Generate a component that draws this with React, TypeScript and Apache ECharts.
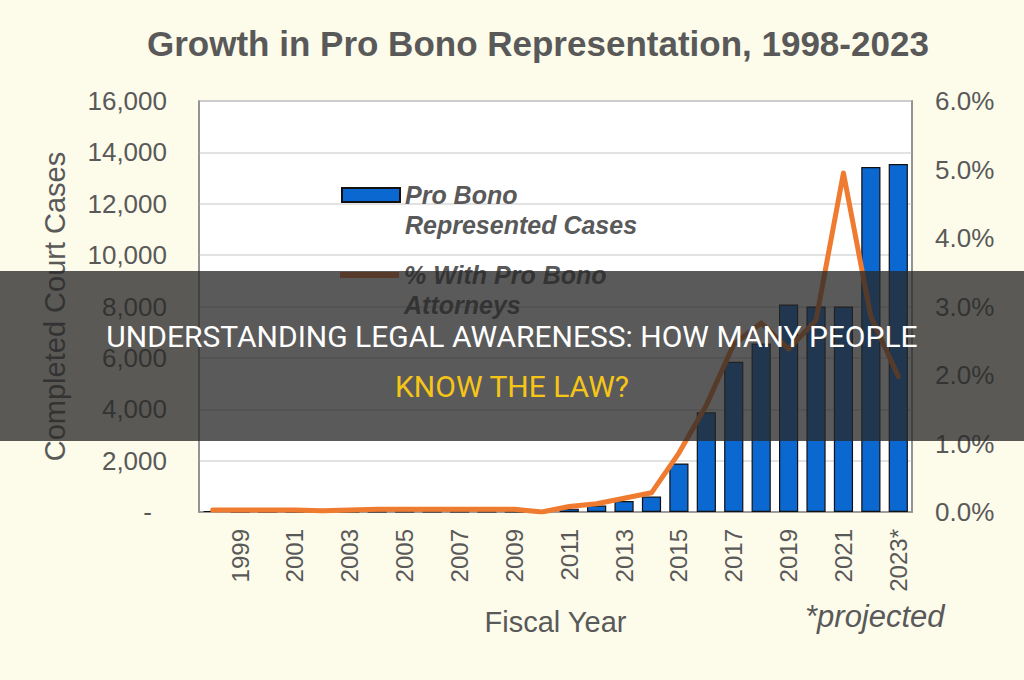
import React, { useEffect, useRef } from "react";
import * as echarts from "echarts";

const years = ["1998","1999","2000","2001","2002","2003","2004","2005","2006","2007","2008","2009","2010","2011","2012","2013","2014","2015","2016","2017","2018","2019","2020","2021","2022","2023*"];
const cases = [40,0,0,0,0,0,0,0,0,0,0,0,50,130,250,430,600,1890,3880,5850,6560,8080,8000,8000,13430,13550];
const pctWithAttorneys = [0.03,0.03,0.03,0.03,0.02,0.03,0.04,0.04,0.04,0.04,0.04,0.04,0.0,0.08,0.12,0.2,0.28,0.86,1.56,2.45,2.76,2.38,2.8,4.95,2.85,1.98];
const leftTicks = { min: 0, max: 16000, interval: 2000 };
const rightTicks = { min: 0, max: 6, interval: 1 };

const GRAY = "#595959";
const BAR = "#0a68d0";
const LINE = "#ee7b30";
const FONT = "'Liberation Sans', Arial, sans-serif";

export default function App() {
  const ref = useRef<HTMLDivElement>(null);
  useEffect(() => {
    if (!ref.current) return;
    const chart = echarts.init(ref.current, null, { renderer: "svg" });
    const legendText = {
      color: GRAY,
      fontSize: 25,
      fontStyle: "italic",
      fontWeight: "bold",
      fontFamily: FONT,
      lineHeight: 30,
    };
    chart.setOption({
      animation: false,
      backgroundColor: "#fdfbea",
      title: {
        text: "Growth in Pro Bono Representation, 1998-2023",
        left: 147,
        top: 26,
        padding: 0,
        textStyle: { color: GRAY, fontSize: 35, fontWeight: "bold", fontFamily: FONT },
      },
      legend: [
        {
          data: [{ name: "Pro Bono Represented Cases", icon: "path://M0,44 M0,0 L58,0 L58,14 L0,14 Z" }],
          left: 341,
          top: 180,
          padding: 0,
          itemWidth: 58,
          itemHeight: 44,
          formatter: () => "Pro Bono\nRepresented Cases",
          textStyle: legendText,
        },
        {
          data: [{ name: "% With Pro Bono Attorneys", icon: "path://M59,44 M0,0 M0,4 L59,4 L59,10 L0,10 Z" }],
          left: 340,
          top: 260,
          padding: 0,
          itemWidth: 59,
          itemHeight: 44,
          formatter: () => "% With Pro Bono\nAttorneys",
          textStyle: legendText,
        },
      ],
      grid: {
        left: 199,
        right: 112,
        top: 101,
        bottom: 168,
        show: true,
        backgroundColor: "#ffffff",
        borderColor: "#8c8c8c",
        borderWidth: 1.5,
      },
      xAxis: {
        type: "category",
        data: years,
        name: "Fiscal Year",
        nameLocation: "middle",
        nameGap: 95,
        nameTextStyle: { color: GRAY, fontSize: 29, fontFamily: FONT },
        axisLine: { show: true, lineStyle: { color: "#8c8c8c", width: 1.5 } },
        axisTick: { show: false },
        axisLabel: {
          rotate: 90,
          margin: 17,
          color: GRAY,
          fontSize: 24,
          fontFamily: FONT,
          interval: (i: number) => i % 2 === 1,
        },
      },
      yAxis: [
        {
          type: "value",
          ...leftTicks,
          name: "Completed Court Cases",
          nameLocation: "middle",
          nameRotate: 90,
          nameGap: 130,
          nameTextStyle: { color: GRAY, fontSize: 29, fontFamily: FONT },
          axisLine: { show: true, lineStyle: { color: "#8c8c8c", width: 1.5 } },
          axisTick: { show: false },
          splitLine: { lineStyle: { color: "#d9d9d9", width: 1.5 } },
          axisLabel: {
            margin: 32,
            color: GRAY,
            fontSize: 26,
            fontFamily: FONT,
            formatter: (v: number) => (v === 0 ? "{z|-}" : v.toLocaleString("en-US")),
            rich: {
              z: { color: GRAY, fontSize: 26, fontFamily: FONT, padding: [0, 15, 0, 0] },
            },
          },
        },
        {
          type: "value",
          ...rightTicks,
          position: "right",
          axisLine: { show: true, lineStyle: { color: "#8c8c8c", width: 1.5 } },
          axisTick: { show: false },
          splitLine: { show: false },
          axisLabel: {
            margin: 23,
            color: GRAY,
            fontSize: 26,
            fontFamily: FONT,
            formatter: (v: number) => v.toFixed(1) + "%",
          },
        },
      ],
      series: [
        {
          name: "Pro Bono Represented Cases",
          type: "bar",
          data: cases,
          barCategoryGap: "30%",
          itemStyle: { color: BAR, borderColor: "#111", borderWidth: 1.2 },
        },
        {
          name: "% With Pro Bono Attorneys",
          type: "line",
          yAxisIndex: 1,
          data: pctWithAttorneys,
          showSymbol: false,
          lineStyle: { color: LINE, width: 5, cap: "round", join: "round" },
          itemStyle: { color: LINE },
        },
      ],
      graphic: [
        {
          type: "text",
          left: 805,
          top: 601,
          style: {
            text: "*projected",
            fill: GRAY,
            fontSize: 31,
            fontStyle: "italic",
            fontFamily: FONT,
          },
        },
        {
          type: "rect",
          z: 100,
          shape: { x: 0, y: 271, width: 1024, height: 170 },
          style: { fill: "rgba(40,40,40,0.77)" },
        },
        {
          type: "text",
          z: 101,
          x: 512,
          y: 336,
          style: {
            text: "UNDERSTANDING LEGAL AWARENESS: HOW MANY PEOPLE",
            fill: "#ffffff",
            fontSize: 30,
            fontFamily: "Roboto, sans-serif",
            align: "center",
            verticalAlign: "middle",
          },
        },
        {
          type: "text",
          z: 101,
          x: 512,
          y: 386,
          style: {
            text: "KNOW THE LAW?",
            fill: "#f5c518",
            fontSize: 30,
            fontFamily: "Roboto, sans-serif",
            align: "center",
            verticalAlign: "middle",
          },
        },
      ],
    });
    return () => chart.dispose();
  }, []);
  return (
    <div
      ref={ref}
      style={{ position: "fixed", left: 0, top: 0, width: 1024, height: 680 }}
    />
  );
}
